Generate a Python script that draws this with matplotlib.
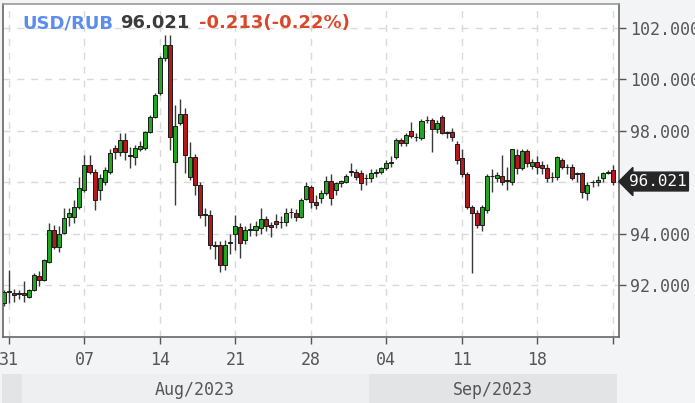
import matplotlib
matplotlib.use("Agg")
import matplotlib.pyplot as plt
import numpy as np

# ---------------- data ----------------
opens = [91.30, 91.76, 91.70, 91.64, 91.70, 91.55, 91.80, 92.35, 92.20, 92.90,
         94.14, 93.49, 94.03, 94.65, 94.65, 95.04, 95.69, 96.66, 96.40, 95.69,
         96.00, 96.40, 97.31, 97.18, 97.64, 97.04, 96.99, 97.30, 97.31, 97.96,
         98.54, 99.45, 100.81, 101.33, 96.79, 98.28, 98.65, 96.19, 96.99, 95.89,
         94.76, 94.72, 93.55, 93.55, 92.77, 93.64, 94.00, 94.25, 93.75, 94.14,
         94.14, 94.21, 94.56, 94.35, 94.50, 94.44, 94.46, 94.82, 94.79, 94.63,
         95.33, 95.82, 95.24, 95.37, 95.59, 96.05, 95.69, 95.95, 96.02, 96.39,
         96.40, 96.36, 96.14, 96.15, 96.34, 96.40, 96.53, 96.73, 96.99, 97.64,
         97.51, 98.00, 97.76, 97.70, 98.40, 98.41, 98.05, 98.54, 97.93, 97.96,
         97.48, 96.92, 96.31, 95.04, 94.81, 94.33, 94.92, 96.23, 96.15, 96.24,
         96.04, 96.02, 97.05, 96.53, 97.22, 96.63, 96.79, 96.67, 96.53, 96.19,
         96.21, 96.84, 96.59, 96.57, 96.33, 96.34, 95.56, 95.99, 96.00, 96.15,
         96.37, 96.47]
highs = [91.80, 92.58, 91.85, 91.80, 92.15, 91.85, 92.45, 92.55, 93.00, 94.40,
         94.35, 94.30, 94.98, 95.00, 95.30, 96.20, 97.05, 97.05, 96.50, 96.30,
         96.60, 97.30, 97.45, 97.90, 97.90, 97.38, 97.45, 97.60, 98.00, 98.60,
         99.45, 100.90, 101.72, 101.72, 99.00, 99.22, 98.89, 97.57, 97.10, 96.00,
         95.00, 94.90, 93.70, 93.70, 93.75, 94.00, 94.72, 94.40, 94.30, 94.40,
         94.50, 95.00, 94.70, 94.45, 94.75, 94.70, 95.00, 95.00, 94.95, 95.40,
         96.00, 95.90, 95.50, 95.70, 96.24, 96.30, 96.00, 96.10, 96.30, 96.73,
         96.50, 96.45, 96.30, 96.50, 96.50, 96.60, 96.85, 97.00, 97.70, 97.70,
         97.90, 98.35, 97.90, 98.45, 98.55, 98.50, 98.40, 98.60, 98.00, 98.10,
         97.60, 97.30, 96.40, 95.10, 94.90, 95.10, 96.30, 96.50, 96.40, 97.05,
         96.60, 97.30, 97.30, 97.30, 97.30, 96.90, 97.00, 96.80, 96.70, 96.40,
         97.00, 96.95, 96.70, 96.70, 96.40, 96.40, 96.00, 96.10, 96.25, 96.40,
         96.45, 96.65]
lows = [91.20, 91.30, 91.35, 91.45, 91.35, 91.50, 91.75, 91.95, 92.15, 92.85,
        93.40, 93.30, 94.00, 94.30, 94.40, 94.95, 95.60, 96.30, 94.91, 95.30,
        95.90, 96.30, 96.90, 97.00, 96.85, 96.53, 96.65, 97.20, 97.25, 97.90,
        98.50, 99.40, 100.70, 97.25, 95.11, 98.20, 96.35, 96.10, 95.50, 94.60,
        94.30, 93.40, 93.00, 92.52, 92.60, 93.20, 93.35, 93.05, 93.60, 93.90,
        93.90, 94.00, 94.10, 93.88, 94.20, 94.20, 94.30, 94.60, 94.50, 94.60,
        95.30, 95.00, 94.95, 95.20, 95.50, 95.10, 95.50, 95.80, 95.95, 96.24,
        96.10, 95.70, 95.90, 96.00, 96.20, 96.30, 96.45, 96.60, 96.90, 97.40,
        97.40, 97.70, 97.60, 97.65, 98.30, 97.18, 97.90, 97.85, 97.70, 97.60,
        96.70, 96.20, 94.95, 92.45, 94.20, 94.10, 94.80, 95.60, 96.00, 95.90,
        95.70, 95.90, 96.30, 96.45, 96.60, 96.50, 96.30, 96.30, 96.00, 96.00,
        96.10, 96.50, 96.30, 96.10, 96.00, 95.40, 95.30, 95.80, 95.85, 96.00,
        96.30, 95.90]
closes = [91.74, 91.72, 91.61, 91.68, 91.60, 91.80, 92.39, 92.20, 92.97, 94.14,
          93.49, 94.00, 94.59, 94.79, 95.02, 95.77, 96.66, 96.40, 95.30, 96.16,
          96.47, 97.13, 97.18, 97.64, 97.18, 97.02, 97.31, 97.40, 97.96, 98.54,
          99.38, 100.81, 101.33, 97.76, 98.18, 98.65, 97.05, 96.97, 95.89, 94.72,
          94.74, 93.55, 93.52, 92.77, 93.55, 93.66, 94.29, 93.63, 94.13, 94.16,
          94.29, 94.56, 94.29, 94.25, 94.37, 94.46, 94.79, 94.84, 94.64, 95.30,
          95.84, 95.24, 95.11, 95.59, 96.05, 95.37, 95.95, 96.05, 96.24, 96.41,
          96.21, 95.98, 96.16, 96.34, 96.40, 96.53, 96.73, 96.78, 97.64, 97.51,
          97.83, 97.79, 97.74, 98.39, 98.42, 98.05, 98.31, 97.92, 97.91, 97.76,
          96.86, 96.31, 95.04, 94.81, 94.33, 95.02, 96.24, 96.25, 96.27, 96.02,
          96.06, 97.27, 96.55, 97.22, 96.75, 96.79, 96.60, 96.53, 96.15, 96.21,
          96.99, 96.60, 96.57, 96.15, 96.35, 95.63, 95.89, 96.01, 96.10, 96.34,
          96.39, 96.021]

symbol = "USD/RUB"
last_price = "96.021"
change_text = "-0.213(-0.22%)"

week_labels = ["31", "07", "14", "21", "28", "04", "11", "18", ""]
first_week_candle = 1        # first candle of Mon 31 Jul
candles_per_day = 3
days_per_week = 5
month_labels = ["Aug/2023", "Sep/2023"]
month_start_tradedays = [1, 24]   # trading days after Mon 31 Jul
y_ticks = [92, 94, 96, 98, 100, 102]
y_hidden_label = 96               # covered by the last-price marker

# ---------------- figure ----------------
W, H = 695, 403
fig = plt.figure(figsize=(W / 100, H / 100), dpi=100, facecolor="#f3f4f6")
L, R, T, B = 3, 619, 4, 337
ax = fig.add_axes([L / W, 1 - B / H, (R - L) / W, (B - T) / H])
ax.set_facecolor("white")

n = len(opens)
x = np.arange(n)
o = np.array(opens); c = np.array(closes); h = np.array(highs); lo = np.array(lows)
up = c >= o
body_bottom = np.minimum(o, c)
body_h = np.maximum(np.abs(c - o), 0.025)
colors = np.where(up, "#22a622", "#b3191d")

ax.vlines(x, lo, h, color="#3a3a3a", lw=1.0, zorder=2)
ax.bar(x, body_h, bottom=body_bottom, width=0.8, color=colors,
       edgecolor="#1a1a1a", linewidth=0.7, zorder=3)

xmin = (L - 4) / 5.03
xmax = (R - 4) / 5.03
ax.set_xlim(xmin, xmax)
ax.set_ylim(89.98, 102.92)

week_pos = [first_week_candle + k * candles_per_day * days_per_week
            for k in range(len(week_labels))]
ax.set_xticks(week_pos)
ax.set_xticklabels(week_labels)
ax.set_yticks(y_ticks)
ax.set_yticklabels(["" if v == y_hidden_label else f"{v:.3f}" for v in y_ticks])
ax.yaxis.tick_right()

for lab in ax.get_xticklabels() + ax.get_yticklabels():
    lab.set_fontfamily("DejaVu Sans Mono")
    lab.set_fontsize(12)
    lab.set_color("#555555")
ax.tick_params(axis="both", direction="out", length=5, width=1, color="#555555")
ax.tick_params(axis="x", pad=5)
ax.tick_params(axis="y", pad=3)

ax.grid(True, color="#d9d9d9", lw=1, linestyle=(0, (5, 5)))
ax.set_axisbelow(True)
for s in ax.spines.values():
    s.set_color("#666666")
    s.set_linewidth(1.2)
ax.spines["top"].set_color("#999999")

# title texts
fig.text(22 / W, 1 - 23 / H, symbol, color="#5b8dee", fontsize=13, fontweight="bold",
         va="center", ha="left")
fig.text(120 / W, 1 - 23 / H, last_price, color="#3b3b3b", fontsize=13, fontweight="bold",
         va="center", ha="left")
fig.text(199 / W, 1 - 23 / H, change_text, color="#d9482b", fontsize=13, fontweight="bold",
         va="center", ha="left")

# last price label on the right axis
ax.annotate(last_price, xy=(1, closes[-1]), xycoords=ax.get_yaxis_transform(),
            xytext=(7, 0), textcoords="offset points", ha="left", va="center",
            color="white", fontsize=11.5, family="DejaVu Sans Mono",
            bbox=dict(boxstyle="larrow,pad=0.12", fc="#262626", ec="#262626"),
            annotation_clip=False, zorder=10)

# month band at the bottom
band = fig.add_axes([0, 0, 1, (H - 374) / H])
px0 = (0 - 4) / 5.03
px1 = (W - 4) / 5.03
band.set_xlim(px0, px1)
band.set_ylim(0, 1)
band.axis("off")
band.set_facecolor("none")
month_starts = [first_week_candle + d * candles_per_day - 0.5 for d in month_start_tradedays]
edges = [px0 + 0.4] + month_starts + [xmax - 0.4]
shades = ["#e3e4e6", "#eeeff1", "#e3e4e6"]
for i in range(len(edges) - 1):
    band.axvspan(edges[i], edges[i + 1], color=shades[i % len(shades)], lw=0)
for i, name in enumerate(month_labels):
    band.text((edges[i + 1] + edges[i + 2]) / 2, 0.45, name, ha="center", va="center",
              color="#555555", fontsize=12, family="DejaVu Sans Mono")

fig.savefig("out.png", dpi=100, facecolor=fig.get_facecolor())
